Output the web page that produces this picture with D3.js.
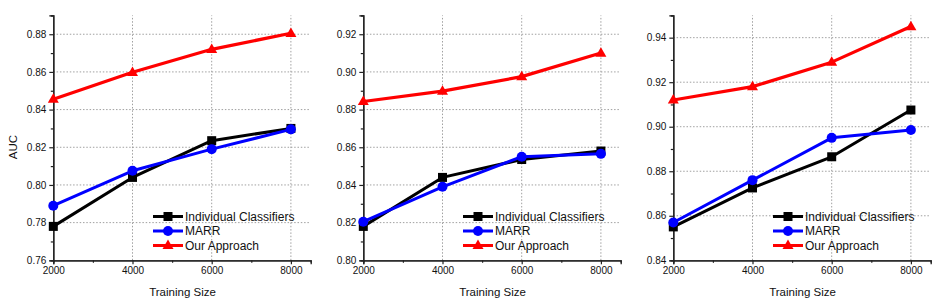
<!DOCTYPE html>
<html>
<head>
<meta charset="utf-8">
<script src="https://cdn.jsdelivr.net/npm/d3@7"></script>
<style>
  html, body { margin: 0; padding: 0; background: #fff; }
  svg { display: block; }
  text { font-family: "Liberation Sans", Arial, sans-serif; fill: #111; }
</style>
</head>
<body>
<svg id="chart" width="940" height="307"></svg>
<script>
// ---- Data ----
const trainingSizes = [2000, 4000, 6000, 8000];
const xTickLabels = [2000, 4000, 6000, 8000];
const seriesNames = ["Individual Classifiers", "MARR", "Our Approach"];

const panel1Individual = [0.778, 0.804, 0.8235, 0.830];
const panel1MARR       = [0.789, 0.8075, 0.819, 0.8295];
const panel1Ours       = [0.8455, 0.8598, 0.872, 0.8805];
const panel1YTicks     = [0.76, 0.78, 0.80, 0.82, 0.84, 0.86, 0.88];

const panel2Individual = [0.818, 0.844, 0.8535, 0.858];
const panel2MARR       = [0.8205, 0.839, 0.855, 0.8565];
const panel2Ours       = [0.8843, 0.8898, 0.8975, 0.910];
const panel2YTicks     = [0.80, 0.82, 0.84, 0.86, 0.88, 0.90, 0.92];

const panel3Individual = [0.855, 0.8725, 0.8865, 0.9075];
const panel3MARR       = [0.857, 0.876, 0.895, 0.8985];
const panel3Ours       = [0.912, 0.918, 0.929, 0.945];
const panel3YTicks     = [0.84, 0.86, 0.88, 0.90, 0.92, 0.94];

const panels = [
  { offset: 0,   yDomain: [0.76, 0.89], yTicks: panel1YTicks, series: [panel1Individual, panel1MARR, panel1Ours], yLabel: true },
  { offset: 310, yDomain: [0.80, 0.93], yTicks: panel2YTicks, series: [panel2Individual, panel2MARR, panel2Ours], yLabel: false },
  { offset: 620, yDomain: [0.84, 0.95], yTicks: panel3YTicks, series: [panel3Individual, panel3MARR, panel3Ours], yLabel: false }
];

const colors = ["#000000", "#0000ff", "#ff0000"];
const shapes = ["square", "circle", "triangle"];

const svg = d3.select("#chart");

function drawMarker(g, shape, x, y, color) {
  if (shape === "square") {
    g.append("rect").attr("x", x - 4.5).attr("y", y - 4.5).attr("width", 9).attr("height", 9).attr("fill", color);
  } else if (shape === "circle") {
    g.append("circle").attr("cx", x).attr("cy", y).attr("r", 5).attr("fill", color);
  } else {
    const s = 11, h = s * Math.sqrt(3) / 2;
    g.append("path")
      .attr("d", `M${x},${y - h * 0.62}L${x + s / 2},${y + h * 0.38}L${x - s / 2},${y + h * 0.38}Z`)
      .attr("fill", color);
  }
}

panels.forEach(p => {
  const g = svg.append("g").attr("transform", `translate(${p.offset},0)`);
  const x = d3.scaleLinear().domain([2000, 8500]).range([53.3, 310.7]);
  const y = d3.scaleLinear().domain(p.yDomain).range([260.3, 15.4]);

  // grid
  const gridG = g.append("g");
  p.yTicks.forEach(t => {
    if (t === p.yDomain[0]) return;
    gridG.append("line")
      .attr("x1", x(2000)).attr("x2", x(8500))
      .attr("y1", y(t)).attr("y2", y(t))
      .attr("stroke", "#a0a0a0").attr("stroke-width", 1).attr("stroke-dasharray", "1.5,1.8");
  });
  xTickLabels.forEach(t => {
    if (t === 2000) return;
    gridG.append("line")
      .attr("x1", x(t)).attr("x2", x(t))
      .attr("y1", y(p.yDomain[0])).attr("y2", y(p.yDomain[1]))
      .attr("stroke", "#a0a0a0").attr("stroke-width", 1).attr("stroke-dasharray", "1.5,1.8");
  });

  // axes
  const xAxis = d3.axisBottom(x).tickValues(xTickLabels).tickFormat(d3.format("d")).tickSize(4).tickPadding(3);
  const xMinor = d3.axisBottom(x).tickValues([3000, 5000, 7000]).tickFormat("").tickSize(2.5);
  const yAxis = d3.axisLeft(y).tickValues(p.yTicks).tickFormat(d3.format(".2f")).tickSize(4).tickPadding(3);
  const minorY = d3.range(Math.round(p.yDomain[0] * 100) + 1, Math.round(p.yDomain[1] * 100) + 1, 2).map(v => v / 100);
  const yMinor = d3.axisLeft(y).tickValues(minorY).tickFormat("").tickSize(2.5);

  const styleAxis = a => {
    a.select(".domain").attr("stroke", "#222").attr("stroke-width", 1.3);
    a.selectAll(".tick line").attr("stroke", "#222").attr("stroke-width", 1.2);
    a.selectAll(".tick text").attr("font-size", 10).attr("fill", "#111");
  };
  g.append("g").attr("transform", `translate(0,${y(p.yDomain[0])})`).call(xMinor).call(styleAxis);
  g.append("g").attr("transform", `translate(0,${y(p.yDomain[0])})`).call(xAxis).call(styleAxis);
  g.append("g").attr("transform", `translate(${x(2000)},0)`).call(yMinor).call(styleAxis);
  g.append("g").attr("transform", `translate(${x(2000)},0)`).call(yAxis).call(styleAxis);

  // axis titles
  g.append("text").attr("x", 182.5).attr("y", 296)
    .attr("text-anchor", "middle").attr("font-size", 11.5).text("Training Size");
  if (p.yLabel) {
    g.append("text").attr("transform", "translate(17,147) rotate(-90)")
      .attr("text-anchor", "middle").attr("font-size", 11.5).text("AUC");
  }

  // lines
  const line = d3.line().x((d, i) => x(trainingSizes[i])).y(d => y(d));
  p.series.forEach((vals, si) => {
    g.append("path").datum(vals).attr("d", line)
      .attr("fill", "none").attr("stroke", colors[si]).attr("stroke-width", si === 2 ? 3.2 : 3)
      .attr("stroke-linejoin", "round");
    const mg = g.append("g");
    vals.forEach((v, i) => drawMarker(mg, shapes[si], x(trainingSizes[i]), y(v), colors[si]));
  });

  // legend
  const lg = g.append("g");
  const rowsY = [216.5, 231, 245.5];
  seriesNames.forEach((name, si) => {
    lg.append("line").attr("x1", 153).attr("x2", 183).attr("y1", rowsY[si]).attr("y2", rowsY[si])
      .attr("stroke", colors[si]).attr("stroke-width", 3);
    drawMarker(lg, shapes[si], 168, rowsY[si], colors[si]);
    lg.append("text").attr("x", 185).attr("y", rowsY[si] + 4.3).attr("font-size", 12).text(name);
  });
});
</script>
</body>
</html>
